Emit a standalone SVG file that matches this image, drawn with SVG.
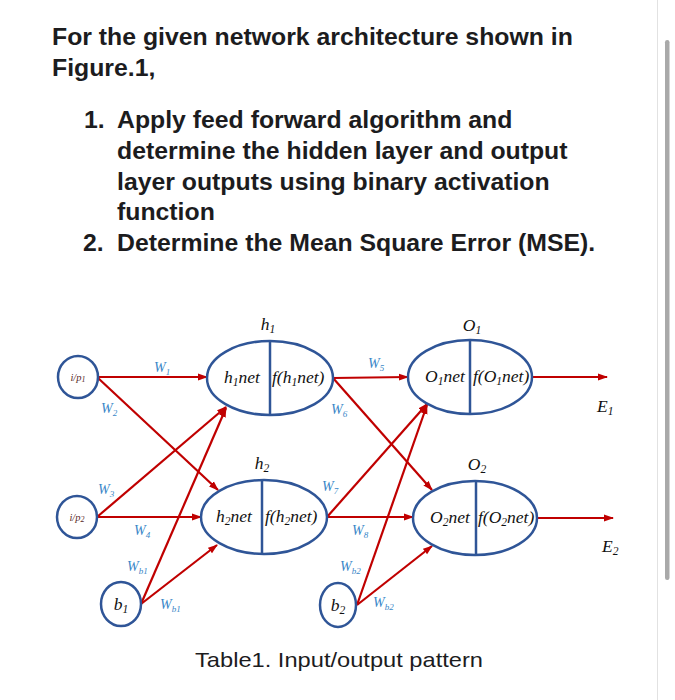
<svg xmlns="http://www.w3.org/2000/svg" width="675" height="700" viewBox="0 0 675 700">
<style>
.q{font-family:"Liberation Sans",Arial,sans-serif;font-weight:bold;font-size:24.8px;fill:#1c1c1e}
.cap{font-family:"Liberation Sans",Arial,sans-serif;font-size:21px;fill:#1c1c1e}
.nd{fill:#fff;stroke:#2f5597;stroke-width:2.5}
.dv{stroke:#2f5597;stroke-width:2.5}
.t{font-family:"Liberation Serif","Times New Roman",serif;font-style:italic;font-size:17.5px;fill:#111}
.s{font-size:11.5px}
.ip{font-family:"Liberation Serif","Times New Roman",serif;font-style:italic;font-size:10.5px;fill:#5a2a2a}
.w{font-family:"Liberation Serif","Times New Roman",serif;font-style:italic;font-size:14px;fill:#3a87c8}
.ws{font-size:9px}
.ln{stroke:#c00000;stroke-width:2.2;fill:none;marker-end:url(#ah)}
</style>
<defs>
<marker id="ah" markerUnits="userSpaceOnUse" markerWidth="10" markerHeight="8" refX="9" refY="4" orient="auto">
<path d="M0,0.5 L10,4 L0,7.5 Z" fill="#c00000"/>
</marker>
</defs>
<rect width="675" height="700" fill="#fff"/>
<line x1="657.5" y1="0" x2="657.5" y2="700" stroke="#e2e2e2" stroke-width="1"/>
<rect x="665" y="40" width="4.5" height="540" rx="2.2" fill="#a9a9a9"/>

<g id="question">
<text class="q" x="52" y="45">For the given network architecture shown in</text>
<text class="q" x="52" y="76">Figure.1,</text>
<text class="q" x="84" y="128">1.</text>
<text class="q" x="117" y="128">Apply feed forward algorithm and</text>
<text class="q" x="117" y="159">determine the hidden layer and output</text>
<text class="q" x="117" y="190">layer outputs using binary activation</text>
<text class="q" x="117" y="220">function</text>
<text class="q" x="83" y="251">2.</text>
<text class="q" x="117" y="251">Determine the Mean Square Error (MSE).</text>
</g>

<g id="connectors">
<line class="ln" x1="98" y1="377" x2="207" y2="377"/>
<line class="ln" x1="98" y1="378" x2="218" y2="490"/>
<line class="ln" x1="97" y1="517" x2="226" y2="407"/>
<line class="ln" x1="97" y1="517" x2="201" y2="517"/>
<line class="ln" x1="141" y1="604" x2="226" y2="408"/>
<line class="ln" x1="141" y1="604" x2="217" y2="545"/>
<line class="ln" x1="333" y1="378" x2="408" y2="377"/>
<line class="ln" x1="333" y1="378" x2="432" y2="490"/>
<line class="ln" x1="327" y1="517" x2="427" y2="404"/>
<line class="ln" x1="327" y1="517" x2="413" y2="517"/>
<line class="ln" x1="357" y1="605" x2="427" y2="405"/>
<line class="ln" x1="357" y1="605" x2="432" y2="546"/>
<line class="ln" x1="532" y1="377" x2="607" y2="377"/>
<line class="ln" x1="537" y1="518" x2="613" y2="518"/>
</g>

<g id="weights">
<text class="w" x="154" y="372">W<tspan class="ws" dy="3">1</tspan></text>
<text class="w" x="101" y="413">W<tspan class="ws" dy="3">2</tspan></text>
<text class="w" x="98" y="494">W<tspan class="ws" dy="3">3</tspan></text>
<text class="w" x="134" y="535">W<tspan class="ws" dy="3">4</tspan></text>
<text class="w" x="127" y="571">W<tspan class="ws" dy="3">b1</tspan></text>
<text class="w" x="160" y="609">W<tspan class="ws" dy="3">b1</tspan></text>
<text class="w" x="368" y="368">W<tspan class="ws" dy="3">5</tspan></text>
<text class="w" x="331" y="414">W<tspan class="ws" dy="3">6</tspan></text>
<text class="w" x="322" y="491">W<tspan class="ws" dy="3">7</tspan></text>
<text class="w" x="352" y="535">W<tspan class="ws" dy="3">8</tspan></text>
<text class="w" x="340" y="571">W<tspan class="ws" dy="3">b2</tspan></text>
<text class="w" x="373" y="607">W<tspan class="ws" dy="3">b2</tspan></text>
</g>

<g id="ip1">
<ellipse class="nd" cx="78" cy="377" rx="20" ry="21"/>
<text class="ip" x="78" y="381" text-anchor="middle">i/p<tspan font-size="8" dy="1">1</tspan></text>
</g>
<g id="ip2">
<ellipse class="nd" cx="77" cy="517" rx="20" ry="21"/>
<text class="ip" x="77" y="521" text-anchor="middle">i/p<tspan font-size="8" dy="1">2</tspan></text>
</g>
<g id="b1">
<ellipse class="nd" cx="121" cy="604" rx="20" ry="22"/>
<text class="t" x="121" y="610" text-anchor="middle" font-size="19">b<tspan class="s" dy="3">1</tspan></text>
</g>
<g id="b2">
<ellipse class="nd" cx="338" cy="605" rx="18" ry="22"/>
<text class="t" x="338" y="611" text-anchor="middle" font-size="19">b<tspan class="s" dy="3">2</tspan></text>
</g>

<g id="h1">
<ellipse class="nd" cx="270" cy="378" rx="63" ry="37"/>
<line class="dv" x1="270" y1="341" x2="270" y2="415"/>
<text class="t" x="268" y="330" text-anchor="middle">h<tspan class="s" dy="3">1</tspan></text>
<text class="t" x="224" y="383">h<tspan class="s" dy="3">1</tspan><tspan dy="-3">net</tspan></text>
<text class="t" x="272" y="383">f(h<tspan class="s" dy="3">1</tspan><tspan dy="-3">net)</tspan></text>
</g>
<g id="h2">
<ellipse class="nd" cx="264" cy="517" rx="63" ry="37"/>
<line class="dv" x1="262" y1="480" x2="262" y2="554"/>
<text class="t" x="262" y="469" text-anchor="middle">h<tspan class="s" dy="3">2</tspan></text>
<text class="t" x="216" y="522">h<tspan class="s" dy="3">2</tspan><tspan dy="-3">net</tspan></text>
<text class="t" x="265" y="522">f(h<tspan class="s" dy="3">2</tspan><tspan dy="-3">net)</tspan></text>
</g>
<g id="O1">
<ellipse class="nd" cx="470" cy="377" rx="62" ry="37"/>
<line class="dv" x1="470" y1="340" x2="470" y2="414"/>
<text class="t" x="472" y="331" text-anchor="middle">O<tspan class="s" dy="3">1</tspan></text>
<text class="t" x="425" y="382">O<tspan class="s" dy="3">1</tspan><tspan dy="-3">net</tspan></text>
<text class="t" x="473" y="382">f(O<tspan class="s" dy="3">1</tspan><tspan dy="-3">net)</tspan></text>
</g>
<g id="O2">
<ellipse class="nd" cx="475" cy="518" rx="62" ry="37"/>
<line class="dv" x1="476" y1="481" x2="476" y2="555"/>
<text class="t" x="477" y="470" text-anchor="middle">O<tspan class="s" dy="3">2</tspan></text>
<text class="t" x="430" y="523">O<tspan class="s" dy="3">2</tspan><tspan dy="-3">net</tspan></text>
<text class="t" x="478" y="523">f(O<tspan class="s" dy="3">2</tspan><tspan dy="-3">net)</tspan></text>
</g>
<g id="E1"><text class="t" x="597" y="412">E<tspan class="s" dy="3">1</tspan></text></g>
<g id="E2"><text class="t" x="602" y="552">E<tspan class="s" dy="3">2</tspan></text></g>

<text class="cap" x="195" y="667" textLength="288" lengthAdjust="spacingAndGlyphs">Table1. Input/output pattern</text>
</svg>
